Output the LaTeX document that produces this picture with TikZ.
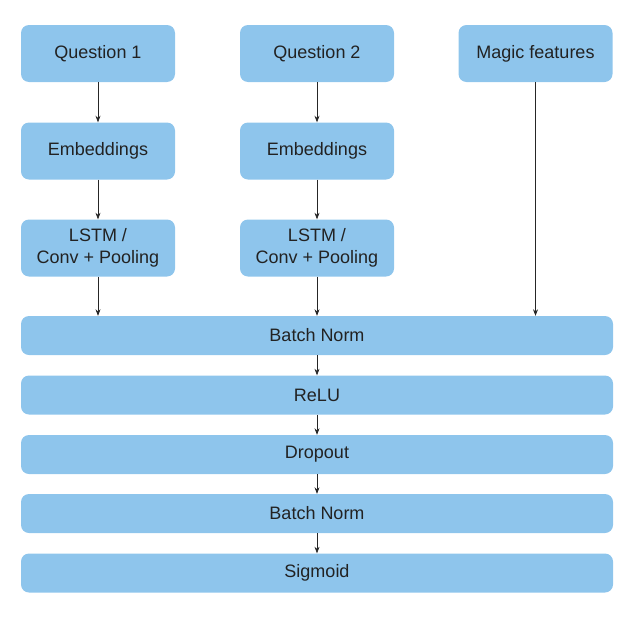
\documentclass[tikz,border=0pt]{standalone}
\usepackage{fontspec}
\setmainfont{Liberation Sans}
\usetikzlibrary{arrows.meta}
\definecolor{boxblue}{RGB}{142,197,236}
\definecolor{txt}{RGB}{34,34,34}
\begin{document}
\begin{tikzpicture}[x=1pt,y=-1pt,
  blk/.style={rectangle, rounded corners=8pt, fill=boxblue, draw=none, inner sep=0pt,
    minimum width=154pt, minimum height=57pt, align=center, text=txt,
    font=\fontsize{18}{22}\selectfont},
  wide/.style={blk, minimum width=592pt, minimum height=39pt},
  arr/.style={draw=black!85, line width=0.7pt, -{Stealth[length=6.5pt,width=5pt]}}]
\useasboundingbox (0,0) rectangle (640,616);
\node[blk] (q1) at (98,53.5) {Question 1};
\node[blk] (q2) at (317,53.5) {Question 2};
\node[blk] (mf) at (535.5,53.5) {Magic features};
\node[blk] (e1) at (98,151) {Embeddings};
\node[blk] (e2) at (317,151) {Embeddings};
\node[blk] (l1) at (98,248) {LSTM /\\Conv + Pooling};
\node[blk] (l2) at (317,248) {LSTM /\\Conv + Pooling};
\node[wide] (bn1) at (317,335.5) {Batch Norm};
\node[wide] (relu) at (317,395) {ReLU};
\node[wide] (drop) at (317,454.5) {Dropout};
\node[wide] (bn2) at (317,513.5) {Batch Norm};
\node[wide] (sig) at (317,573) {Sigmoid};
\draw[arr] (q1) -- (e1);
\draw[arr] (e1) -- (l1);
\draw[arr] (q2) -- (e2);
\draw[arr] (e2) -- (l2);
\draw[arr] (l1.south) -- (l1.south |- bn1.north);
\draw[arr] (l2.south) -- (l2.south |- bn1.north);
\draw[arr] (mf.south) -- (mf.south |- bn1.north);
\draw[arr] (bn1) -- (relu);
\draw[arr] (relu) -- (drop);
\draw[arr] (drop) -- (bn2);
\draw[arr] (bn2) -- (sig);
\end{tikzpicture}
\end{document}
